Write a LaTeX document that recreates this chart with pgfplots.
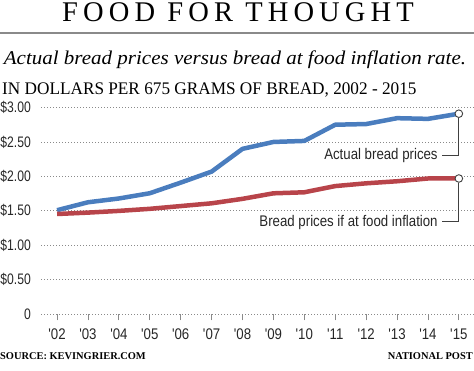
\documentclass[border=0pt]{standalone}
\usepackage{pgfplots}
\pgfplotsset{compat=1.18}
\usepackage{fontspec}
\setmainfont{Liberation Serif}
\newfontfamily\cond{Liberation Sans}[FakeStretch=0.86]
\newfontfamily\condy{Liberation Sans}[FakeStretch=0.8]
\newfontfamily\titlefont{Liberation Serif}[LetterSpace=18]
\definecolor{blueline}{HTML}{4A7DBE}
\definecolor{redline}{HTML}{B8444A}
\definecolor{gridc}{HTML}{8A8A8A}
\begin{document}
\begin{tikzpicture}[x=1pt,y=1pt]
\useasboundingbox (0,0) rectangle (474,371);
% header
\node[anchor=base,inner sep=0pt] at (238,349) {\titlefont\fontsize{28.5}{28.5}\selectfont FOOD FOR THOUGHT};
\draw[gridc,line width=1.5pt] (0,338) -- (474,338);
\node[anchor=base,inner sep=0pt] at (235,306) {\scalebox{1.077}[1]{\fontsize{19.5}{19.5}\selectfont\itshape Actual bread prices versus bread at food inflation rate.}};
\node[anchor=base west,inner sep=0pt] at (2,276) {\scalebox{0.973}[1]{\fontsize{17.7}{17.7}\selectfont IN DOLLARS PER 675 GRAMS OF BREAD, 2002 - 2015}};
\node[anchor=base west,inner sep=0pt] at (0,11) {\fontsize{10.4}{10.4}\selectfont\bfseries SOURCE: KEVINGRIER.COM};
\node[anchor=base east,inner sep=0pt] at (473,11) {\fontsize{10.4}{10.4}\selectfont\bfseries NATIONAL POST};
\begin{axis}[
  at={(41pt,56.7pt)}, anchor=south west,
  width=433pt, height=206.8pt, scale only axis,
  xmin=1.48, xmax=15.49, ymin=0, ymax=3,
  axis x line*=bottom, axis y line*=left,
  axis line style={draw=none},
  xtick={2,...,15},
  xticklabels={'02,'03,'04,'05,'06,'07,'08,'09,'10,'11,'12,'13,'14,'15},
  ytick={0,0.5,1,1.5,2,2.5,3},
  yticklabels={0,\$0.50,\$1.00,\$1.50,\$2.00,\$2.50,\$3.00},
  xticklabel style={font=\cond\fontsize{15.4}{15.4}\selectfont, text=black!85, anchor=north, inner sep=0pt, yshift=-8pt},
  yticklabel style={font=\condy\fontsize{15.2}{15.2}\selectfont, text=black!85, anchor=east, inner sep=0pt, xshift=-4pt},
  tick align=outside,
  major tick length=6pt,
  xtick style={gridc, line width=0.8pt},
  ytick style={draw=none},
  ymajorgrids,
  grid style={gridc, line width=0.9pt, dash pattern=on 0.9pt off 2.1pt},
  clip=false,
]
\addplot[blueline, line width=4.5pt, line join=round] coordinates {
(2,1.51) (3,1.625) (4,1.68) (5,1.756) (6,1.91) (7,2.07) (8,2.40) (9,2.50) (10,2.515) (11,2.75) (12,2.76) (13,2.845) (14,2.835) (15,2.91)};
\addplot[redline, line width=4.5pt, line join=round] coordinates {
(2,1.455) (3,1.475) (4,1.50) (5,1.53) (6,1.57) (7,1.61) (8,1.675) (9,1.755) (10,1.77) (11,1.86) (12,1.90) (13,1.93) (14,1.97) (15,1.97)};
\draw[black!75, line width=0.8pt] (axis cs:15,2.85) -- (axis cs:15,2.302) -- (axis cs:14.47,2.302);
\draw[black!75, line width=0.8pt] (axis cs:15,1.91) -- (axis cs:15,1.354) -- (axis cs:14.47,1.354);
\addplot[only marks, mark=*, mark size=3.8pt, mark options={fill=white, draw=black!75, line width=0.9pt}] coordinates {(15,2.91) (15,1.97)};
\node[anchor=base east, inner sep=0pt, text=black!85] at (axis cs:14.32,2.24) {\cond\fontsize{15.4}{15.4}\selectfont Actual bread prices};
\node[anchor=base east, inner sep=0pt, text=black!85] at (axis cs:14.32,1.28) {\cond\fontsize{15.4}{15.4}\selectfont Bread prices if at food inflation};
\end{axis}
\end{tikzpicture}
\end{document}
